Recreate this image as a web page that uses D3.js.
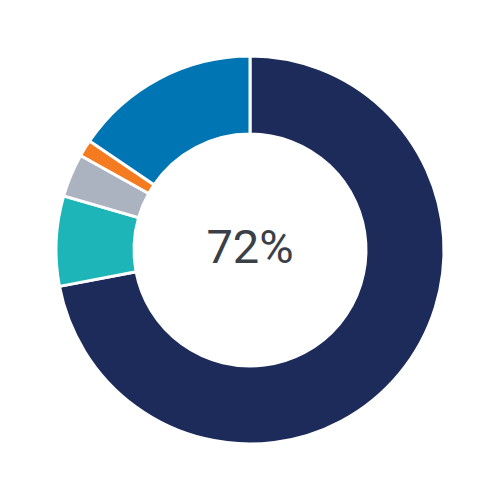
<!DOCTYPE html>
<html>
<head>
<meta charset="utf-8">
<script src="https://cdn.jsdelivr.net/npm/d3@7"></script>
<style>
  body { margin: 0; background: #fff; }
</style>
</head>
<body>
<script>
// slice shares, clockwise from 12 o'clock
var categories = ['A', 'B', 'C', 'D', 'E'];
var values = [72, 7.5, 3.6, 1.4, 15.5];
var colors = ['#1c2b5a', '#1db5b8', '#abb2c0', '#f47b20', '#0075b4'];
var centerLabel = '72%';

var width = 500, height = 500;
var svg = d3.select('body').append('svg')
   .attr('width', width)
   .attr('height', height);

var g = svg.append('g')
   .attr('transform', 'translate(250,250)');

var pie = d3.pie().sort(null).value(function(d) { return d; });
var arc = d3.arc().innerRadius(116).outerRadius(194);

g.selectAll('path')
   .data(pie(values))
   .enter()
   .append('path')
   .attr('d', arc)
   .attr('fill', function(d, i) { return colors[i]; })
   .attr('stroke', '#fff')
   .attr('stroke-width', 3);

g.append('text')
   .attr('text-anchor', 'middle')
   .attr('y', 13)
   .attr('font-family', 'Roboto, sans-serif')
   .attr('font-size', 47)
   .attr('fill', '#3b3f47')
   .text(centerLabel);
</script>
</body>
</html>
